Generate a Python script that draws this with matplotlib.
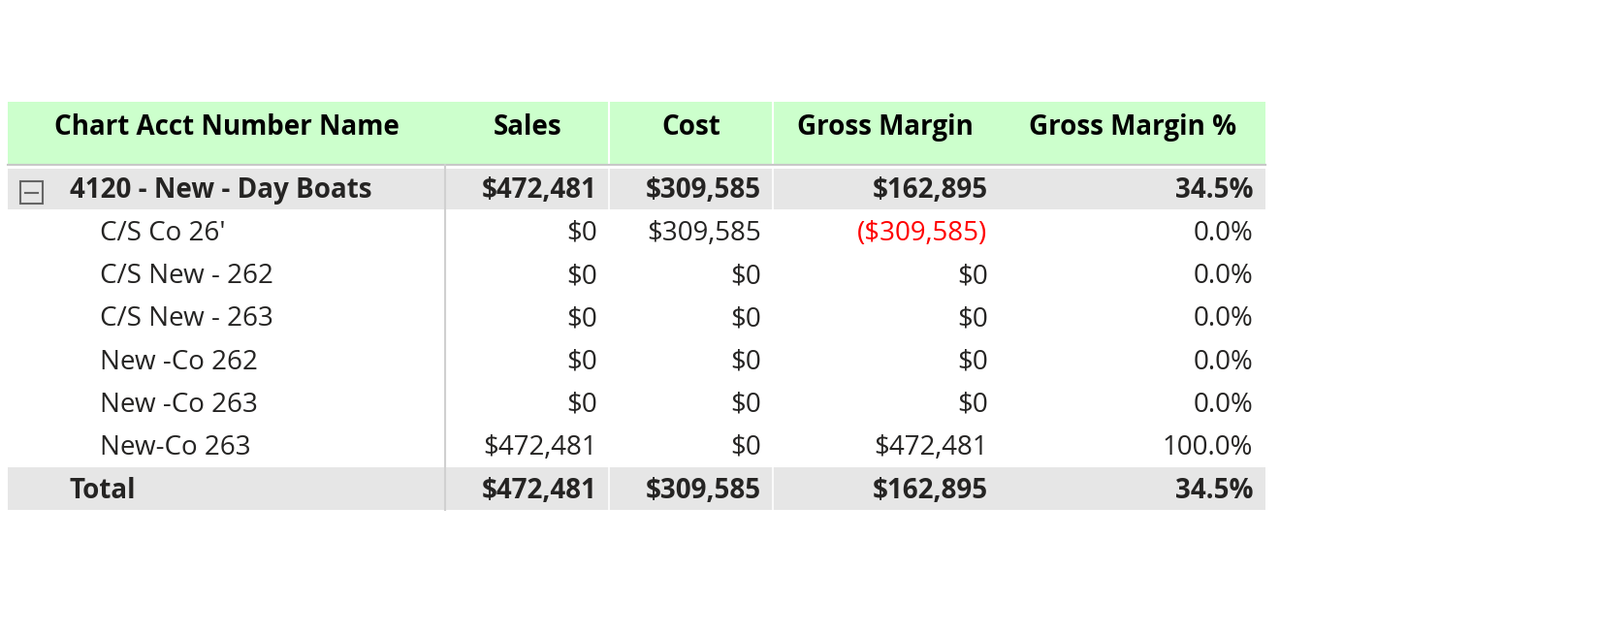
import matplotlib.pyplot as plt
from matplotlib.patches import Rectangle

headers = ["Chart Acct Number Name", "Sales", "Cost", "Gross Margin", "Gross Margin %"]
group_name = "4120 - New - Day Boats"
group_vals = ["$472,481", "$309,585", "$162,895", "34.5%"]
names = ["C/S Co 26'", "C/S New - 262", "C/S New - 263", "New -Co 262", "New -Co 263", "New-Co 263"]
sales = ["$0", "$0", "$0", "$0", "$0", "$472,481"]
cost = ["$309,585", "$0", "$0", "$0", "$0", "$0"]
margin = ["($309,585)", "$0", "$0", "$0", "$0", "$472,481"]
margin_pct = ["0.0%", "0.0%", "0.0%", "0.0%", "0.0%", "100.0%"]
total_vals = ["$472,481", "$309,585", "$162,895", "34.5%"]

# layout coordinates are in units of a 1568-wide view of the figure
W, H = 1568, 621.5
fig = plt.figure(figsize=(16.5, 6.54), dpi=100)
ax = fig.add_axes([0, 0, 1, 1])
ax.set_xlim(0, W)
ax.set_ylim(H, 0)
ax.axis("off")

font = "Open Sans"
fs = 20
txt = "#252423"
left, right = 8, 1240
val_x = [585, 746, 968, 1228]
head_x = [222, 517, 677, 868, 1110]

# header band
ax.add_patch(Rectangle((left, 100), right - left, 62, color="#CCFFCC", lw=0))
for x in [597, 757]:
    ax.plot([x, x], [100, 162], color="white", lw=1.5)
ax.plot([left, right], [162, 162], color="#C8C8C8", lw=1.5)
for x, h in zip(head_x, headers):
    ax.text(x, 125, h, ha="center", va="center", fontsize=fs, fontweight="bold",
            family=font, color="black")

# group and total bands
ax.add_patch(Rectangle((left, 165), right - left, 40, color="#E6E6E6", lw=0))
ax.add_patch(Rectangle((left, 458), right - left, 42, color="#E6E6E6", lw=0))
ax.plot([436, 436], [162, 500], color="#D0D0D0", lw=1.5)
for x in [597, 757]:
    ax.plot([x, x], [165, 205], color="white", lw=1.2)
    ax.plot([x, x], [458, 500], color="white", lw=1.2)

# expand/collapse box
ax.add_patch(Rectangle((20, 178), 22, 22, fill=False, ec="#666666", lw=1.5))
ax.plot([25, 37], [189, 189], color="#666666", lw=1.5)

ax.text(68, 187, group_name, ha="left", va="center", fontsize=fs, fontweight="bold",
        family=font, color=txt)
for x, v in zip(val_x, group_vals):
    ax.text(x, 187, v, ha="right", va="center", fontsize=fs, fontweight="bold",
            family=font, color=txt)

for i, n in enumerate(names):
    y = 229 + 42 * i
    ax.text(98, y, n, ha="left", va="center", fontsize=fs, family=font, color=txt)
    row = [sales[i], cost[i], margin[i], margin_pct[i]]
    for x, v in zip(val_x, row):
        c = "#FF0000" if v.startswith("(") else txt
        ax.text(x, y, v, ha="right", va="center", fontsize=fs, family=font, color=c)

ax.text(68, 481, "Total", ha="left", va="center", fontsize=fs, fontweight="bold",
        family=font, color=txt)
for x, v in zip(val_x, total_vals):
    ax.text(x, 481, v, ha="right", va="center", fontsize=fs, fontweight="bold",
            family=font, color=txt)

fig.savefig("out.png", dpi=100, facecolor="white")
